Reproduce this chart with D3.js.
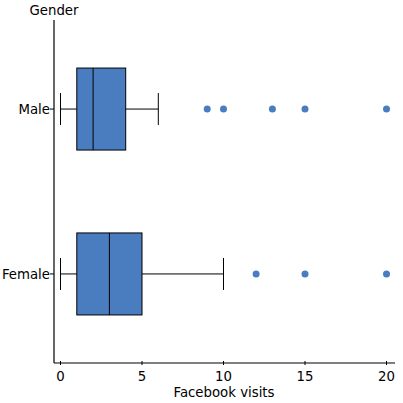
<!DOCTYPE html>
<html><head><meta charset="utf-8">
<script src="https://cdn.jsdelivr.net/npm/d3@7"></script>
<style>body{margin:0;background:#fff}svg{display:block}text{font-family:"DejaVu Sans",Verdana,sans-serif;font-size:13.3px;fill:#000}</style>
</head><body><svg id="c" width="403" height="403"></svg>
<script>
const categories = ["Male", "Female"];
const whiskerLow = [0, 0];
const q1 = [1, 1];
const median = [2, 3];
const q3 = [4, 5];
const whiskerHigh = [6, 10];
const outliers = [[9, 10, 13, 15, 20], [12, 15, 20]];
const xTicks = [0, 5, 10, 15, 20];

const svg = d3.select("#c");
const fill = "#4a7dc0";
const x = d3.scaleLinear().domain([0, 20]).range([60.5, 386.5]);
const y = d3.scalePoint().domain(categories).range([20, 363]).padding(0.54);
const boxH = 82, capH = 32;

// axes
const xAx = svg.append("g").attr("transform", "translate(0,363)");
xAx.append("line").attr("x1", 54).attr("x2", 395).attr("stroke", "#000").attr("stroke-width", 1.2);
xAx.selectAll("line.t").data(xTicks).join("line").attr("class","t")
  .attr("x1", d => x(d)).attr("x2", d => x(d)).attr("y1", -2).attr("y2", 2).attr("stroke", "#000");
xAx.selectAll("text").data(xTicks).join("text")
  .attr("x", d => x(d)).attr("y", 18).attr("text-anchor", "middle").text(d => d);
svg.append("text").attr("x", 224).attr("y", 397).attr("text-anchor", "middle").text("Facebook visits");

const yAx = svg.append("g");
yAx.append("line").attr("x1", 54).attr("x2", 54).attr("y1", 20).attr("y2", 363).attr("stroke", "#000").attr("stroke-width", 1.2);
yAx.selectAll("line.t").data(categories).join("line").attr("class","t")
  .attr("x1", 50).attr("x2", 54).attr("y1", d => y(d)).attr("y2", d => y(d)).attr("stroke", "#000");
yAx.selectAll("text").data(categories).join("text")
  .attr("x", 50).attr("y", d => y(d) + 5).attr("text-anchor", "end").text(d => d);
svg.append("text").attr("x", 54).attr("y", 15).attr("text-anchor", "middle").text("Gender");

categories.forEach((c, i) => {
  const cy = y(c);
  const g = svg.append("g");
  g.append("line").attr("x1", x(whiskerLow[i])).attr("x2", x(whiskerHigh[i])).attr("y1", cy).attr("y2", cy).attr("stroke", "#000");
  [whiskerLow[i], whiskerHigh[i]].forEach(v => g.append("line")
    .attr("x1", x(v)).attr("x2", x(v)).attr("y1", cy - capH/2).attr("y2", cy + capH/2).attr("stroke", "#000"));
  g.append("rect").attr("x", x(q1[i])).attr("width", x(q3[i]) - x(q1[i]))
    .attr("y", cy - boxH/2).attr("height", boxH).attr("fill", fill).attr("stroke", "#000");
  g.append("line").attr("x1", x(median[i])).attr("x2", x(median[i])).attr("y1", cy - boxH/2).attr("y2", cy + boxH/2).attr("stroke", "#000");
  g.selectAll("circle").data(outliers[i]).join("circle")
    .attr("cx", d => x(d)).attr("cy", cy).attr("r", 3.5).attr("fill", fill);
});
</script></body></html>
